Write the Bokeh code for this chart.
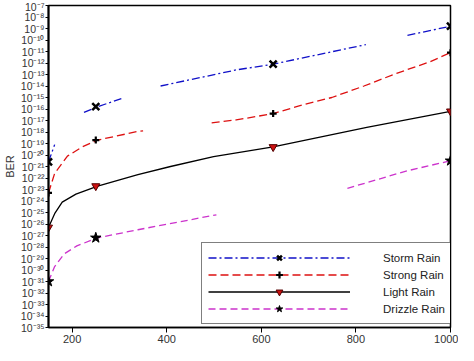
import math
from bokeh.plotting import figure
from bokeh.models import Range1d, FixedTicker, CustomJSTickFormatter, Legend, LegendItem
from bokeh.embed import file_html
from bokeh.resources import INLINE

nan = float("nan")

# ---- data (x = link range / parameter, y = log10(BER)) ----
marker_x = [150, 250, 625, 1000]
storm_marker_log = [-20.6, -15.8, -12.1, -8.8]
strong_marker_log = [-23.3, -18.7, -16.4, -11.1]
light_marker_log = [-26.3, -22.7, -19.3, -16.2]
drizzle_marker_x = [150, 250, 1000]
drizzle_marker_log = [-31.0, -27.2, -20.5]

storm_curve_x = [150, 163, nan, 225, 254, 304, nan, 387, 547, 625, 821, nan, 909, 1000]
storm_curve_log = [-20.6, -19.1, nan, -16.3, -15.8, -15.1, nan, -14.0, -12.6, -12.1, -10.4, nan, -9.6, -8.8]

strong_curve_x = [150, 163, 190, 221, 254, 339, 350, nan, 495, 547, 625, 678, 749, 817, 886, 956, 1000]
strong_curve_log = [-23.3, -21.6, -20.1, -19.3, -18.7, -17.95, -17.9, nan, -17.2, -16.95, -16.4, -15.75, -15.0, -14.0, -12.9, -11.9, -11.1]

light_curve_x = [150, 163, 179, 208, 254, 339, 408, 499, 625, 823, 1000]
light_curve_log = [-26.3, -25.1, -24.1, -23.4, -22.7, -21.7, -21.0, -20.15, -19.3, -17.6, -16.2]

drizzle_curve_x = [150, 163, 183, 210, 254, 339, 505, nan, 782, 906, 1000]
drizzle_curve_log = [-31.0, -29.7, -28.6, -27.9, -27.2, -26.5, -25.2, nan, -22.9, -21.4, -20.5]

x_ticks = [200, 400, 600, 800, 1000]
y_tick_exponents = list(range(-7, -36, -1))
series_labels = ["Storm Rain", "Strong Rain", "Light Rain", "Drizzle Rain"]


def ber(logs):
    return [10 ** v if not math.isnan(v) else nan for v in logs]


p = figure(width=458, height=345, output_backend="svg", toolbar_location=None,
           y_axis_type="log", x_range=Range1d(150, 1000),
           y_range=Range1d(10 ** -35, 10 ** -7),
           min_border_left=43, min_border_right=8, min_border_top=5, min_border_bottom=12)

p.xgrid.visible = False
p.ygrid.visible = False
p.outline_line_color = "black"
p.outline_line_width = 1.5
p.background_fill_color = "white"

FONT = "Liberation Sans"

p.xaxis.ticker = FixedTicker(ticks=x_ticks)
p.xaxis.major_tick_out = 5
p.xaxis.major_tick_in = 0
p.xaxis.minor_tick_out = 0
p.xaxis.minor_tick_in = 0
p.xaxis.axis_line_width = 1.5
p.xaxis.major_label_text_font = FONT
p.xaxis.major_label_text_font_size = "11px"
p.xaxis.major_label_text_color = "#333333"
p.xaxis.major_label_standoff = 2
p.xaxis.axis_label_standoff = 0

p.yaxis.ticker = FixedTicker(ticks=[10.0 ** e for e in y_tick_exponents])
p.yaxis.formatter = CustomJSTickFormatter(code="""
const sup = {'0':'\u2070','1':'\u00b9','2':'\u00b2','3':'\u00b3','4':'\u2074','5':'\u2075',
             '6':'\u2076','7':'\u2077','8':'\u2078','9':'\u2079','-':'\u207b'};
const e = Math.round(Math.log10(tick));
return '10' + String(e).split('').map(c => sup[c]).join('');
""")
p.yaxis.major_tick_out = 3
p.yaxis.major_tick_in = 0
p.yaxis.minor_tick_out = 0
p.yaxis.minor_tick_in = 0
p.yaxis.axis_line_width = 2
p.yaxis.major_label_text_font = FONT
p.yaxis.major_label_text_font_size = "10.5px"
p.yaxis.major_label_text_color = "#333333"
p.yaxis.major_label_standoff = 1
p.yaxis.axis_label = "BER"
p.yaxis.axis_label_text_font = FONT
p.yaxis.axis_label_text_font_style = "normal"
p.yaxis.axis_label_text_font_size = "11px"
p.yaxis.axis_label_text_color = "#333333"
p.yaxis.axis_label_standoff = 2

# ---- curves ----
r_storm = p.line(storm_curve_x, ber(storm_curve_log), line_color="#1010c8", line_width=1.3,
                 line_dash="8 3 2 3")
r_strong = p.line(strong_curve_x, ber(strong_curve_log), line_color="#dd1111", line_width=1.3,
                  line_dash="8 4")
r_light = p.line(light_curve_x, ber(light_curve_log), line_color="black", line_width=1.3)
r_drizzle = p.line(drizzle_curve_x, ber(drizzle_curve_log), line_color="#cc33cc", line_width=1.3,
                   line_dash="7 4")

# ---- markers ----
m_storm = p.scatter(marker_x, ber(storm_marker_log), marker="x", size=10, line_width=2.5,
                    line_color="black")
m_strong = p.scatter(marker_x, ber(strong_marker_log), marker="cross", size=7, line_width=2.2,
                     line_color="black")
m_light = p.scatter(marker_x, ber(light_marker_log), marker="inverted_triangle", size=8,
                    fill_color="#cc1111", line_color="#550000", line_width=1)
m_drizzle = p.scatter(drizzle_marker_x, ber(drizzle_marker_log), marker="star", size=11,
                      fill_color="black", line_color="black")

legend = Legend(items=[
    LegendItem(label=series_labels[0], renderers=[r_storm, m_storm]),
    LegendItem(label=series_labels[1], renderers=[r_strong, m_strong]),
    LegendItem(label=series_labels[2], renderers=[r_light, m_light]),
    LegendItem(label=series_labels[3], renderers=[r_drizzle, m_drizzle]),
], location=(153, 3))
legend.glyph_width = 142
legend.glyph_height = 17
legend.spacing = 0
legend.padding = 6
legend.label_standoff = 33
legend.label_height = 17
legend.label_text_font = FONT
legend.label_text_font_size = "11.5px"
legend.label_text_color = "#222222"
legend.border_line_color = "black"
legend.border_line_width = 1.5
legend.background_fill_color = "white"
legend.background_fill_alpha = 1.0
legend.margin = 0
p.add_layout(legend, "center")

open("out.html", "w").write(file_html(p, INLINE))
